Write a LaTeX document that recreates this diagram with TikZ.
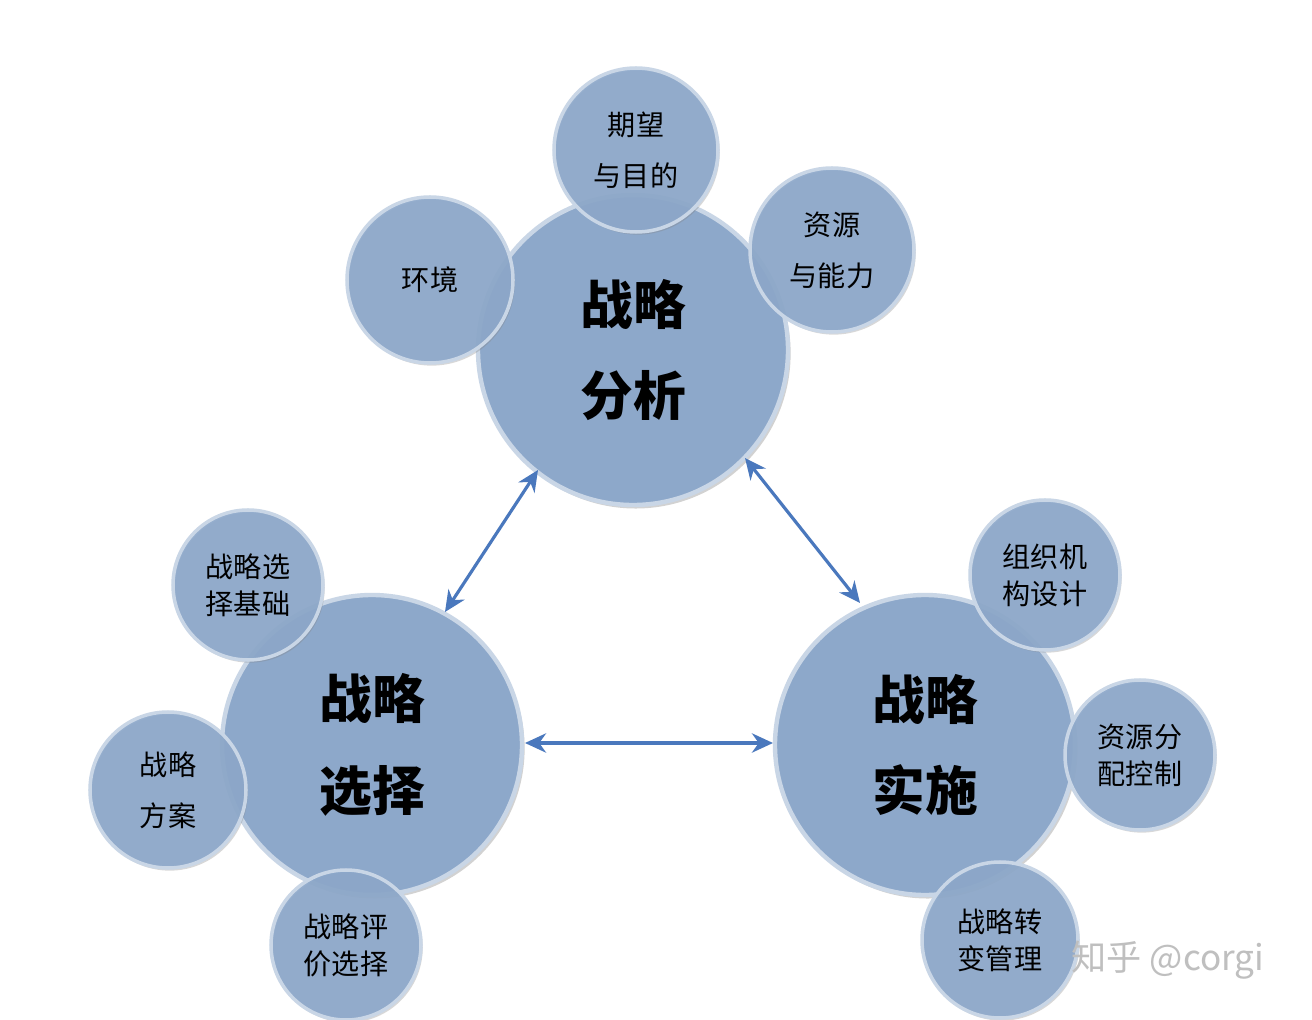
\documentclass[tikz,border=0pt]{standalone}
\usepackage{fontspec}
\setmainfont{Noto Sans CJK SC}
\usetikzlibrary{arrows.meta,shadows}
\definecolor{cfill}{HTML}{8DA8CA}
\definecolor{cedge}{HTML}{C9D6E6}
\definecolor{arr}{HTML}{4A78BD}
\tikzset{
 big/.style={circle,minimum size=#1,inner sep=0pt,fill=cfill,draw=cedge,line width=2.5pt,
   drop shadow={shadow xshift=1.5pt,shadow yshift=-2pt,opacity=0.35},align=center,
   font=\fontsize{30}{52}\selectfont\bfseries},
 small/.style={circle,minimum size=#1,inner sep=0pt,fill=cfill,fill opacity=0.92,text opacity=1,draw=cedge,line width=2pt,
   drop shadow={shadow xshift=1pt,shadow yshift=-1.5pt,opacity=0.3},align=center,
   font=\fontsize{16}{21}\selectfont},
 dbl/.style={{Stealth[length=12pt,width=11pt]}-{Stealth[length=12pt,width=11pt]},draw=arr,line width=1.8pt}
}
\begin{document}
\begin{tikzpicture}[x=0.02cm,y=-0.02cm]
\useasboundingbox[fill=white] (0,0) rectangle (1312,1020);
\node[big=310*0.02cm] (A) at (633,350) {战略\\分析};
\node[big=300*0.02cm] (B) at (372,745) {战略\\选择};
\node[big=300*0.02cm] (C) at (925,745) {战略\\实施};
\node[small=164*0.02cm] (a1) at (636,150) {期望\\[8pt]与目的};
\node[small=166*0.02cm] (a2) at (430,280) {环境};
\node[small=164*0.02cm] (a3) at (832,250) {资源\\[8pt]与能力};
\node[small=150*0.02cm] (b1) at (248,585) {战略选\\择基础};
\node[small=156*0.02cm] (b2) at (168,790) {战略\\[8pt]方案};
\node[small=150*0.02cm] (b3) at (346,945) {战略评\\价选择};
\node[small=150*0.02cm] (c1) at (1045,575) {组织机\\构设计};
\node[small=150*0.02cm] (c2) at (1140,755) {资源分\\配控制};
\node[small=156*0.02cm] (c3) at (1000,940) {战略转\\变管理};
\coordinate (p1) at (538,470); \coordinate (p2) at (445,612);
\coordinate (q1) at (745,458); \coordinate (q2) at (860,603);
\coordinate (r1) at (525,743); \coordinate (r2) at (773,743);
\draw[dbl] (p1) -- (p2);
\draw[dbl] (q1) -- (q2);
\draw[dbl] (r1) -- (r2);
\node[text=black!25,font=\fontsize{20}{24}\selectfont] (wm) at (1168,960) {知乎 @corgi};
\end{tikzpicture}
\end{document}
